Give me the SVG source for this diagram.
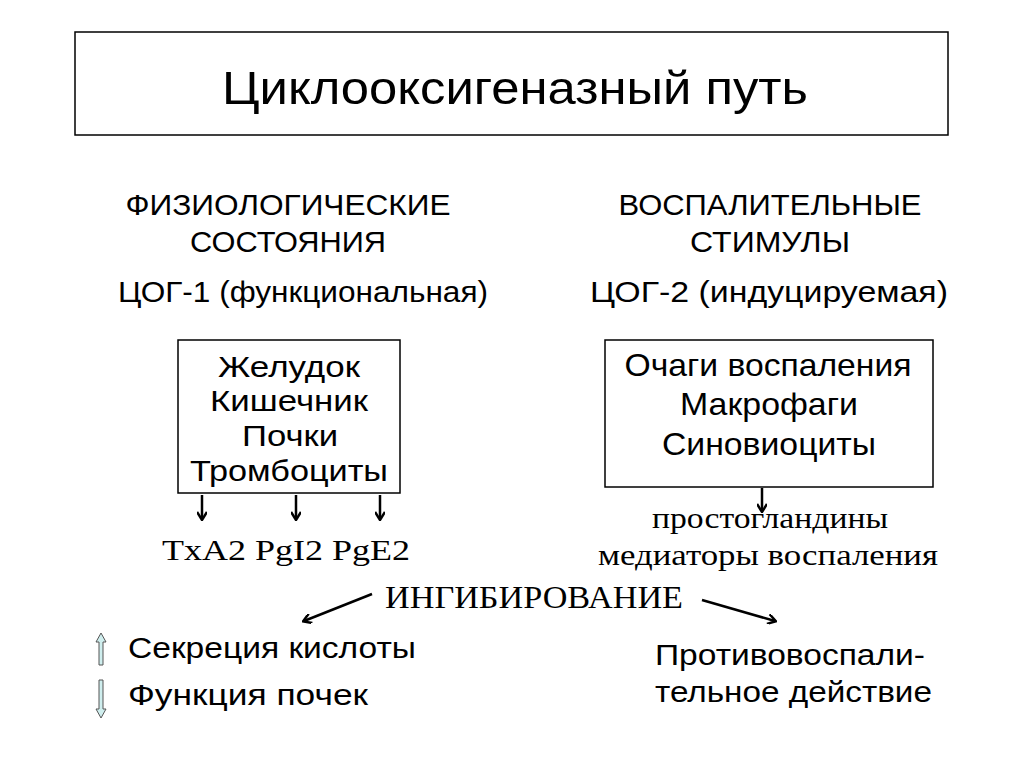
<svg xmlns="http://www.w3.org/2000/svg" width="1024" height="767" viewBox="0 0 1024 767">
<style>
.s{font-family:"Liberation Sans",Arial,sans-serif;fill:#000}
.r{font-family:"Liberation Serif","Times New Roman",serif;fill:#000}
.b{fill:#fff;stroke:#000;stroke-width:1.5}
.c{stroke:#000;stroke-width:2.5;fill:none}
.ba{fill:#cfeeee;stroke:#555;stroke-width:1}
</style>
<defs><marker id="ah" markerWidth="10" markerHeight="10" refX="8" refY="5" orient="auto" markerUnits="userSpaceOnUse"><path d="M1,0 L9,5 L1,10" fill="none" stroke="#000" stroke-width="2.5"/></marker></defs>
<rect width="1024" height="767" fill="#fff"/>
<g id="title"><rect class="b" x="75" y="32" width="873" height="103"/><text class="s" x="515" y="104" font-size="46" text-anchor="middle" textLength="586" lengthAdjust="spacingAndGlyphs">Циклооксигеназный путь</text></g>
<g id="left-head" class="s" font-size="29" text-anchor="middle">
<text x="288" y="215" textLength="325" lengthAdjust="spacingAndGlyphs">ФИЗИОЛОГИЧЕСКИЕ</text><text x="288" y="252" textLength="196" lengthAdjust="spacingAndGlyphs">СОСТОЯНИЯ</text><text x="303" y="302" textLength="370" lengthAdjust="spacingAndGlyphs">ЦОГ-1 (функциональная)</text></g>
<g id="right-head" class="s" font-size="29" text-anchor="middle">
<text x="770" y="215" textLength="303" lengthAdjust="spacingAndGlyphs">ВОСПАЛИТЕЛЬНЫЕ</text><text x="770" y="252" textLength="160" lengthAdjust="spacingAndGlyphs">СТИМУЛЫ</text><text x="769" y="302" textLength="358" lengthAdjust="spacingAndGlyphs">ЦОГ-2 (индуцируемая)</text></g>
<g id="left-box"><rect class="b" x="178" y="340" width="222" height="153"/>
<g class="s" font-size="30" text-anchor="middle"><text x="289" y="377" textLength="142" lengthAdjust="spacingAndGlyphs">Желудок</text><text x="289" y="411" textLength="158" lengthAdjust="spacingAndGlyphs">Кишечник</text><text x="290" y="446" textLength="96" lengthAdjust="spacingAndGlyphs">Почки</text><text x="289" y="481" textLength="198" lengthAdjust="spacingAndGlyphs">Тромбоциты</text></g></g>
<g id="right-box"><rect class="b" x="605" y="340" width="328" height="147"/>
<g class="s" font-size="32" text-anchor="middle"><text x="768" y="376" textLength="287" lengthAdjust="spacingAndGlyphs">Очаги воспаления</text><text x="769" y="415" textLength="178" lengthAdjust="spacingAndGlyphs">Макрофаги</text><text x="769" y="455" textLength="214" lengthAdjust="spacingAndGlyphs">Синовиоциты</text></g></g>
<g id="products"><text class="r" x="286" y="560" font-size="30" text-anchor="middle" textLength="248" lengthAdjust="spacingAndGlyphs">TxA2  PgI2  PgE2</text></g>
<g id="prost" class="r" font-size="30" text-anchor="middle"><text x="770" y="528" textLength="236" lengthAdjust="spacingAndGlyphs">простогландины</text><text x="768" y="565" textLength="340" lengthAdjust="spacingAndGlyphs">медиаторы воспаления</text></g>
<g id="inhib"><text class="r" x="534" y="608" font-size="31" text-anchor="middle" textLength="298" lengthAdjust="spacingAndGlyphs">ИНГИБИРОВАНИЕ</text></g>
<g id="left-effects" class="s" font-size="30"><text x="128" y="658" textLength="288" lengthAdjust="spacingAndGlyphs">Секреция кислоты</text><text x="128" y="705" textLength="240" lengthAdjust="spacingAndGlyphs">Функция почек</text>
<path class="ba" d="M101,633 L106,642 L103,642 L103,665 L99,665 L99,642 L96,642 Z"/>
<path class="ba" d="M101,718 L106,709 L103,709 L103,680 L99,680 L99,709 L96,709 Z"/></g>
<g id="right-effects" class="s" font-size="30"><text x="655" y="665" textLength="270" lengthAdjust="spacingAndGlyphs">Противовоспали-</text><text x="655" y="702" textLength="277" lengthAdjust="spacingAndGlyphs">тельное действие</text></g>
<g id="connectors">
<line class="c" x1="202" y1="495" x2="202" y2="519" marker-end="url(#ah)"/>
<line class="c" x1="296" y1="495" x2="296" y2="519" marker-end="url(#ah)"/>
<line class="c" x1="380" y1="495" x2="380" y2="519" marker-end="url(#ah)"/>
<line class="c" x1="762" y1="488" x2="762" y2="511" marker-end="url(#ah)"/>
<line class="c" x1="372" y1="594" x2="304" y2="621" marker-end="url(#ah)"/>
<line class="c" x1="702" y1="600" x2="775" y2="621" marker-end="url(#ah)"/>
</g>
</svg>
